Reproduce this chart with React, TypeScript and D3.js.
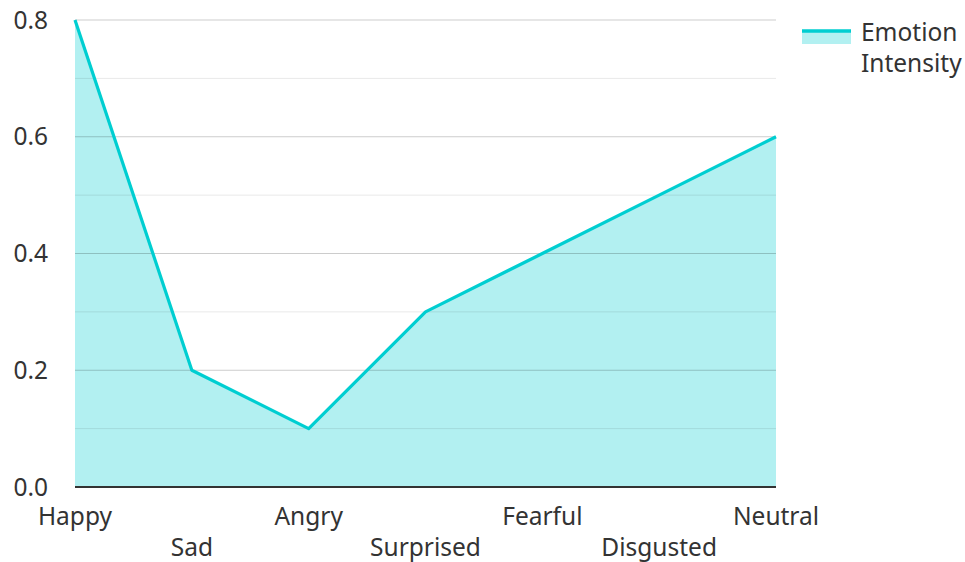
import React, {useEffect, useRef} from 'react';
import * as d3 from 'd3';

const emotions = ['Happy', 'Sad', 'Angry', 'Surprised', 'Fearful', 'Disgusted', 'Neutral'];
const intensity = [0.8, 0.2, 0.1, 0.3, 0.4, 0.5, 0.6];
const yTicks = [0, 0.2, 0.4, 0.6, 0.8];
const minorTicks = [0.1, 0.3, 0.5, 0.7];
const seriesName = ['Emotion', 'Intensity'];

const W = 965;
const H = 562;
const m = {left: 75, right: 189, top: 20, bottom: 75};
const color = '#00CED1';
const font = '"Noto Sans", "Open Sans", sans-serif';
const fs = 24.5;

function App() {
  const ref = useRef<SVGSVGElement>(null);

  useEffect(() => {
    const svg = d3.select(ref.current);
    svg.selectAll('*').remove();

    const x = d3.scalePoint<string>()
      .domain(emotions)
      .range([m.left, W - m.right]);
    const y = d3.scaleLinear()
      .domain([0, 0.8])
      .range([H - m.bottom, m.top]);

    const data = emotions.map((e, i) => ({e, v: intensity[i]}));

    const area = d3.area<{e: string, v: number}>()
      .x(d => x(d.e)!)
      .y0(y(0))
      .y1(d => y(d.v));
    const line = d3.line<{e: string, v: number}>()
      .x(d => x(d.e)!)
      .y(d => y(d.v));

    svg.append('path')
      .datum(data)
      .attr('d', area)
      .attr('fill', color)
      .attr('fill-opacity', 0.3);

    // grid
    svg.append('g').selectAll('line')
      .data(minorTicks)
      .join('line')
      .attr('x1', m.left).attr('x2', W - m.right)
      .attr('y1', d => y(d)).attr('y2', d => y(d))
      .attr('stroke', '#000').attr('stroke-opacity', 0.09).attr('stroke-width', 1);
    svg.append('g').selectAll('line')
      .data(yTicks.filter(d => d > 0))
      .join('line')
      .attr('x1', m.left).attr('x2', W - m.right)
      .attr('y1', d => y(d)).attr('y2', d => y(d))
      .attr('stroke', '#000').attr('stroke-opacity', 0.2).attr('stroke-width', 1);

    svg.append('path')
      .datum(data)
      .attr('d', line)
      .attr('fill', 'none')
      .attr('stroke', color)
      .attr('stroke-width', 3.2)
      .attr('stroke-linejoin', 'round');

    // x axis line
    svg.append('line')
      .attr('x1', m.left).attr('x2', W - m.right)
      .attr('y1', y(0)).attr('y2', y(0))
      .attr('stroke', '#333').attr('stroke-width', 2);

    svg.append('g').selectAll('text')
      .data(yTicks)
      .join('text')
      .attr('x', 48)
      .attr('y', d => y(d))
      .attr('dy', '0.35em')
      .attr('text-anchor', 'end')
      .attr('font-family', font)
      .attr('font-size', fs)
      .attr('fill', '#333')
      .text(d => d.toFixed(1));

    svg.append('g').selectAll('text')
      .data(emotions)
      .join('text')
      .attr('x', d => x(d)!)
      .attr('y', (d, i) => i % 2 === 0 ? 516 : 547)
      .attr('dy', '0.35em')
      .attr('text-anchor', 'middle')
      .attr('font-family', font)
      .attr('font-size', fs)
      .attr('fill', '#333')
      .text(d => d);

    // legend
    const lg = svg.append('g');
    lg.append('rect')
      .attr('x', 802).attr('y', 30).attr('width', 49).attr('height', 14)
      .attr('fill', color).attr('fill-opacity', 0.3);
    lg.append('line')
      .attr('x1', 802).attr('x2', 851).attr('y1', 31).attr('y2', 31)
      .attr('stroke', color).attr('stroke-width', 3.5);
    lg.selectAll('text')
      .data(seriesName)
      .join('text')
      .attr('x', 861)
      .attr('y', (d, i) => 32 + i * 31)
      .attr('dy', '0.35em')
      .attr('font-family', font)
      .attr('font-size', fs)
      .attr('fill', '#333')
      .text(d => d);
  }, []);

  return (
    <svg ref={ref} width={W} height={H} style={{position: 'absolute', left: 0, top: 0, background: '#fff'}}/>
  );
}

export default App;
